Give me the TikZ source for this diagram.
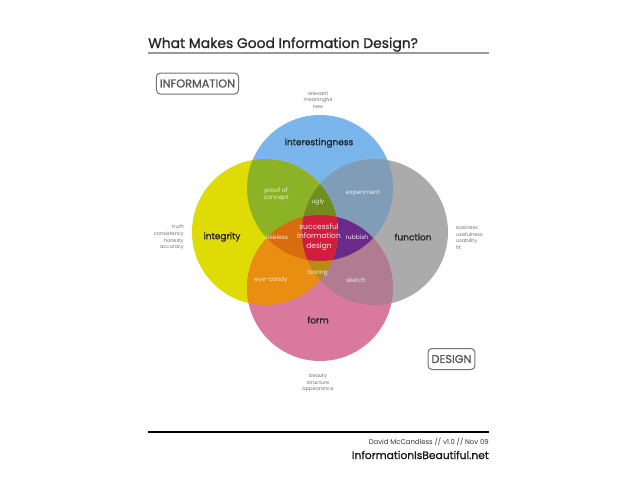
\documentclass[tikz,border=0pt]{standalone}
\usepackage{fontspec}
\setmainfont{Poppins}
\newfontfamily\medfont{Poppins}[FakeBold=1.2]
\begin{document}
\begin{tikzpicture}[x=1pt,y=-1pt,
  big/.style={font=\medfont\fontsize{9}{10}\selectfont, text=black!85},
  inner/.style={font=\fontsize{6}{7}\selectfont, text=white!92!black, align=center, inner sep=0pt},
  side/.style={font=\fontsize{5}{6.6}\selectfont, text=black!55, inner sep=0pt},
  tagbox/.style={draw=black!55, rounded corners=4pt, line width=1pt, text=black!65, font=\medfont\fontsize{11.3}{12}\selectfont, minimum height=21pt, inner xsep=3.5pt}]
\useasboundingbox (0,0) rectangle (638,493);
\fill[white] (0,0) rectangle (638,493);
\def\R{73pt}
\coordinate (cb) at (320,188);
\coordinate (cy) at (265,232);
\coordinate (cg) at (375,232);
\coordinate (cp) at (320,288);
\definecolor{cB}{HTML}{7AB5EC}
\definecolor{cY}{HTML}{DFDB05}
\definecolor{cG}{HTML}{ABABAB}
\definecolor{cP}{HTML}{D97A9D}
\definecolor{cBY}{HTML}{8CB225}
\definecolor{cBG}{HTML}{7F9DB7}
\definecolor{cYP}{HTML}{EA8E12}
\definecolor{cGP}{HTML}{B27C90}
\definecolor{cBYG}{HTML}{6F8E1E}
\definecolor{cBYP}{HTML}{DA6C10}
\definecolor{cBGP}{HTML}{6B2A8A}
\definecolor{cYGP}{HTML}{B78C14}
\definecolor{cAll}{HTML}{D21E3C}
% singles
\fill[cB] (cb) circle[radius=\R];
\fill[cY] (cy) circle[radius=\R];
\fill[cG] (cg) circle[radius=\R];
\fill[cP] (cp) circle[radius=\R];
% pairs
\begin{scope}\clip (cb) circle[radius=\R]; \fill[cBY] (cy) circle[radius=\R]; \end{scope}
\begin{scope}\clip (cb) circle[radius=\R]; \fill[cBG] (cg) circle[radius=\R]; \end{scope}
\begin{scope}\clip (cp) circle[radius=\R]; \fill[cYP] (cy) circle[radius=\R]; \end{scope}
\begin{scope}\clip (cp) circle[radius=\R]; \fill[cGP] (cg) circle[radius=\R]; \end{scope}
% triples
\begin{scope}\clip (cb) circle[radius=\R]; \clip (cy) circle[radius=\R]; \fill[cBYG] (cg) circle[radius=\R]; \end{scope}
\begin{scope}\clip (cb) circle[radius=\R]; \clip (cy) circle[radius=\R]; \fill[cBYP] (cp) circle[radius=\R]; \end{scope}
\begin{scope}\clip (cb) circle[radius=\R]; \clip (cg) circle[radius=\R]; \fill[cBGP] (cp) circle[radius=\R]; \end{scope}
\begin{scope}\clip (cy) circle[radius=\R]; \clip (cg) circle[radius=\R]; \fill[cYGP] (cp) circle[radius=\R]; \end{scope}
% all four
\begin{scope}\clip (cb) circle[radius=\R]; \clip (cy) circle[radius=\R]; \clip (cg) circle[radius=\R]; \fill[cAll] (cp) circle[radius=\R]; \end{scope}

% title
\node[anchor=base west, inner sep=0pt, font=\medfont\fontsize{13.9}{15}\selectfont, text=black!85] (title) at (148,48) {What Makes Good Information Design?};
\draw[black!40, line width=2pt] (148,53) -- (489,53);
\node[tagbox] (info) at (197.5,83.5) {INFORMATION};
\node[tagbox] (design) at (451.5,359) {DESIGN};

% circle labels
\node[big] (interest) at (319,143) {interestingness};
\node[big] (integrity) at (222,237) {integrity};
\node[big] (function) at (413,237) {function};
\node[big] (form) at (318,320) {form};

% region labels
\node[inner] (proof) at (276,194) {proof of\\concept};
\node[inner] (exper) at (363,193) {experiment};
\node[inner] (ugly) at (318,202) {ugly};
\node[inner] (useless) at (277,237) {useless};
\node[inner, font=\fontsize{7.5}{9.5}\selectfont] (succ) at (319,237) {successful\\information\\design};
\node[inner] (rubbish) at (357,237) {rubbish};
\node[inner] (boring) at (318,273) {boring};
\node[inner] (eye) at (271,280) {eye-candy};
\node[inner] (sketch) at (356,280) {sketch};

% side labels
\node[side, align=center] (top) at (318,100) {relevant\\meaningful\\new};
\node[side, align=right, anchor=east] (left) at (184,237.5) {truth\\consistency\\honesty\\accuracy};
\node[side, align=left, anchor=west] (right) at (456,237.5) {easiness\\usefulness\\usability\\fit};
\node[side, align=center] (bottom) at (318,383) {beauty\\structure\\appearance};

% footer
\draw[black, line width=1.2pt] (148,432) -- (489,432);
\node[anchor=base east, inner sep=0pt, font=\fontsize{6.9}{7}\selectfont, text=black!80] (credit) at (489,444) {David McCandless // v1.0 // Nov 09};
\node[anchor=base east, inner sep=0pt, font=\medfont\fontsize{10.7}{12}\selectfont, text=black!90] (site) at (489,459) {InformationIsBeautiful.net};
\end{tikzpicture}
\end{document}
